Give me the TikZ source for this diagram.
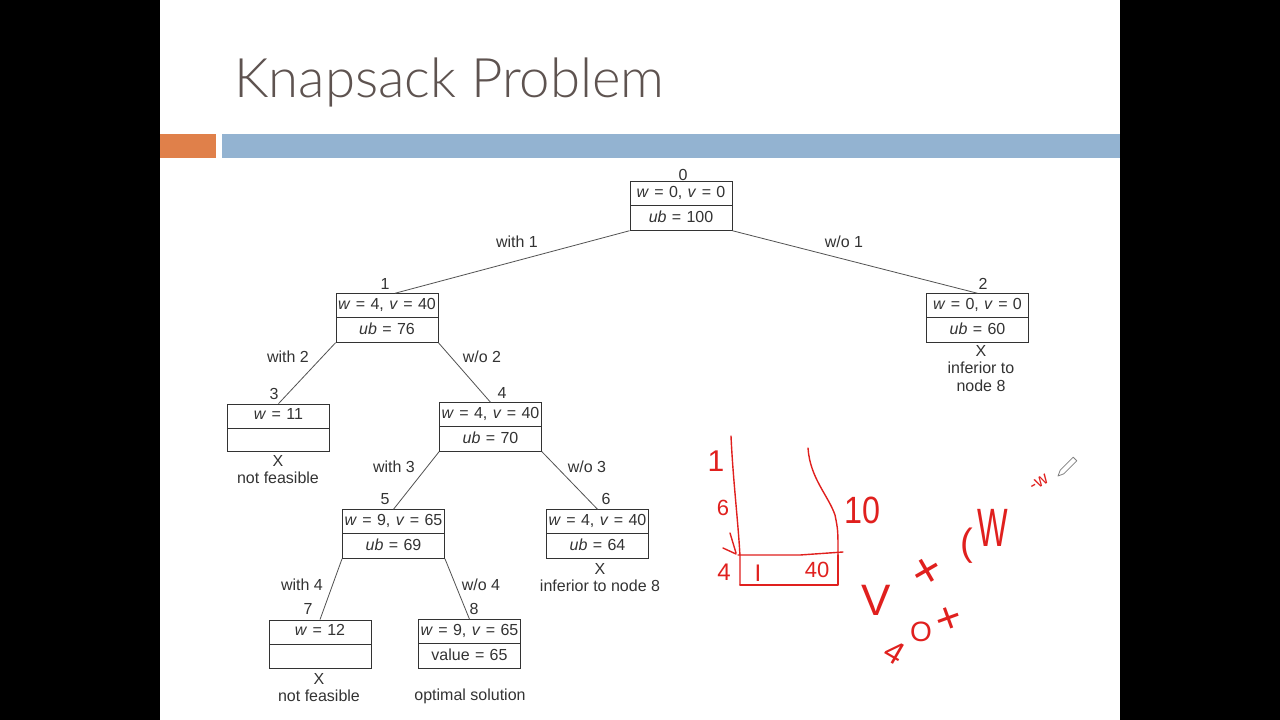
\documentclass[tikz,border=0pt]{standalone}
\usepackage{fontspec}
\setmainfont{Liberation Sans}
\newfontfamily\titlefont{Lato Light}
\usetikzlibrary{shapes.multipart}
\definecolor{orangebar}{HTML}{E0804A}
\definecolor{bluebar}{HTML}{93B3D1}
\definecolor{titlecol}{HTML}{5E5350}
\definecolor{ink}{HTML}{333333}
\definecolor{pen}{HTML}{E0201E}
\newcommand{\bst}{\rule[-3.5pt]{0pt}{14.5pt}}
\begin{document}
\begin{tikzpicture}[x=1pt,y=-1pt,
  box/.style={rectangle split, rectangle split parts=2, draw=ink, line width=0.9pt,
    text width=100pt, inner xsep=1pt, inner ysep=4.25pt, align=center,
    font=\fontsize{16}{17.5}\selectfont, text=ink},
  lbl/.style={font=\fontsize{16}{17.5}\selectfont, text=ink, inner sep=0pt, align=center},
  edge/.style={draw=ink!85, line width=0.8pt},
  hand/.style={draw=pen, line width=1.4pt, line cap=round, line join=round},
  ht/.style={text=pen, inner sep=0pt}]
\useasboundingbox (0,0) rectangle (1280,720);
\fill[black] (0,0) rectangle (1280,720);
\fill[white] (160,0) rectangle (1120,720);
% title and bars
\node[anchor=base west, inner sep=0pt, text=titlecol, font=\titlefont\fontsize{54.5}{60}\selectfont] (title) at (234,97) {Knapsack Problem};
\fill[orangebar] (160,134) rectangle (216,158);
\fill[bluebar] (222,134) rectangle (1120,158);
% tree nodes
\node[box] (n0) at (681,206) {\bst\textit{w} = 0, \textit{v} = 0\nodepart{two}\bst\textit{ub} = 100};
\node[box] (n1) at (387,318) {\bst\textit{w} = 4, \textit{v} = 40\nodepart{two}\bst\textit{ub} = 76};
\node[box] (n2) at (977.5,318) {\bst\textit{w} = 0, \textit{v} = 0\nodepart{two}\bst\textit{ub} = 60};
\node[box] (n3) at (278.5,428) {\bst\textit{w} = 11\nodepart{two}\bst};
\node[box] (n4) at (490.5,427) {\bst\textit{w} = 4, \textit{v} = 40\nodepart{two}\bst\textit{ub} = 70};
\node[box] (n5) at (393.5,534) {\bst\textit{w} = 9, \textit{v} = 65\nodepart{two}\bst\textit{ub} = 69};
\node[box] (n6) at (597.5,534) {\bst\textit{w} = 4, \textit{v} = 40\nodepart{two}\bst\textit{ub} = 64};
\node[box] (n7) at (320,644) {\bst\textit{w} = 12\nodepart{two}\bst};
\node[box] (n8) at (469.5,644) {\bst\textit{w} = 9, \textit{v} = 65\nodepart{two}\bst value = 65};
% node numbers
\node[lbl] (k0) at (683,175) {0};
\node[lbl] (k1) at (385,284) {1};
\node[lbl] (k2) at (983,284) {2};
\node[lbl] (k3) at (274,394) {3};
\node[lbl] (k4) at (502,393) {4};
\node[lbl] (k5) at (385,499) {5};
\node[lbl] (k6) at (606,499) {6};
\node[lbl] (k7) at (308,609) {7};
\node[lbl] (k8) at (474,609) {8};
% edges
\draw[edge] (n0.south west) -- ([xshift=8pt]n1.north);
\draw[edge] (n0.south east) -- (n2.north);
\draw[edge] (n1.south west) -- (n3.north);
\draw[edge] (n1.south east) -- (n4.north);
\draw[edge] (n4.south west) -- (n5.north);
\draw[edge] (n4.south east) -- (n6.north);
\draw[edge] (n5.south west) -- (n7.north);
\draw[edge] (n5.south east) -- (n8.north);
% edge labels
\node[lbl] (e1) at (517,242) {with 1};
\node[lbl] (e2) at (844,242) {w/o 1};
\node[lbl] (e3) at (288,357) {with 2};
\node[lbl] (e4) at (482,357) {w/o 2};
\node[lbl] (e5) at (394,467) {with 3};
\node[lbl] (e6) at (587,467) {w/o 3};
\node[lbl] (e7) at (302,585) {with 4};
\node[lbl] (e8) at (481,585) {w/o 4};
% notes
\node[lbl, anchor=north] (c2) at (981,345) {X\\inferior to\\node 8};
\node[lbl, anchor=north] (c3) at (278,455) {X\\not feasible};
\node[lbl, anchor=north] (c6) at (600,563) {X\\inferior to node 8};
\node[lbl, anchor=north] (c7) at (319,673) {X\\not feasible};
\node[lbl] (c8) at (470,696) {optimal solution};
% handwritten annotation
\draw[hand] (731,436) .. controls (733,480) and (738,520) .. (740,556) -- (740,585);
\draw[hand] (740,585) -- (838,585) -- (838,555);
\draw[hand] (738,555) -- (800,555) -- (843,552);
\draw[hand] (808,448) .. controls (810,478) and (828,495) .. (835,515) .. controls (838,530) .. (838,555);
\draw[hand] (730,533) -- (736,553);
\draw[hand] (723,548) -- (736,554);
\node[ht, font=\fontsize{30}{30}\selectfont] (h1) at (716,461) {1};
\node[ht, font=\fontsize{22}{22}\selectfont] (h6) at (723,508) {6};
\node[ht, font=\fontsize{24}{24}\selectfont] (h4) at (724,572) {4};
\node[ht, font=\fontsize{24}{24}\selectfont\rmfamily] (hI) at (758,573) {I};
\node[ht, font=\fontsize{22}{22}\selectfont] (h40) at (817,570) {40};
\node[ht, font=\fontsize{38}{38}\selectfont, xscale=0.85] (h10) at (862,510) {10};
\node[ht, font=\fontsize{44}{44}\selectfont] (hV) at (876,600) {V};
\node[ht, font=\fontsize{50}{50}\selectfont, rotate=30] (hp1) at (928,573) {+};
\node[ht, font=\fontsize{38}{38}\selectfont] (hpar) at (967,546) {(};
\node[ht, font=\fontsize{54}{54}\selectfont, xscale=0.6] (hW) at (993,528) {W};
\node[ht, font=\fontsize{18}{18}\selectfont, rotate=30] (hmw) at (1039,483) {-w};
\node[ht, font=\fontsize{32}{32}\selectfont, rotate=-30] (h4b) at (895,652) {4};
\node[ht, font=\fontsize{28}{28}\selectfont] (h0b) at (921,632) {O};
\node[ht, font=\fontsize{44}{44}\selectfont, rotate=20] (hp2) at (949,620) {+};
% pencil cursor
\draw[gray, line width=0.8pt, line join=round] (1058,476) -- (1060.2,470.2) -- (1073.2,457.2) -- (1076.8,460.8) -- (1063.8,473.8) -- cycle;
\end{tikzpicture}
\end{document}
